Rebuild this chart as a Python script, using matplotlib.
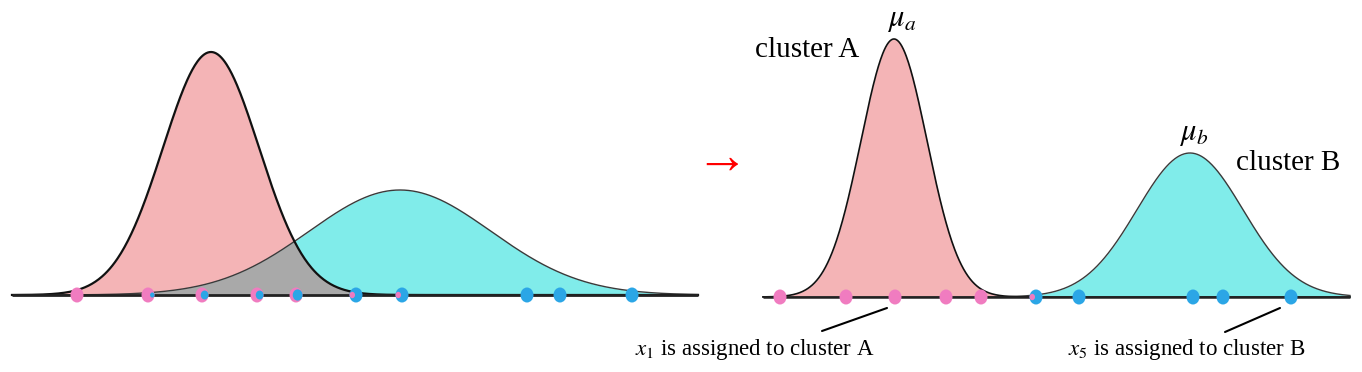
import matplotlib
matplotlib.use("Agg")
import matplotlib.pyplot as plt
import numpy as np
from matplotlib.patches import Ellipse

plt.rcParams['font.family'] = ['Liberation Serif', 'DejaVu Serif']
plt.rcParams['mathtext.fontset'] = 'stix'

# Colores
PINK_FILL = '#f4b4b6'
CYAN_FILL = '#80ecea'
GRAY_FILL = '#a9a9a9'
PINK_DOT = '#f07cc0'
BLUE_DOT = '#2ba6e6'

# Panel izquierdo (antes): dos gaussianas que se solapan (unidades en pixeles)
left_base = 295
left_range = (12, 698)
left_a = dict(mu=211, sigma=48, height=243)
left_b = dict(mu=400, sigma=91, height=105)
left_points = [77, 148, 202, 257, 296, 356, 402, 527, 560, 632]
left_pink_frac = [1.0, 0.8, 0.65, 0.65, 0.55, 0.25, 0.25, 0.0, 0.0, 0.0]

# Panel derecho (despues): clusters separados
right_base = 297
right_range = (763, 1350)
right_a = dict(mu=894, sigma=33, height=258)
right_b = dict(mu=1190, sigma=53, height=144)
right_points = [780, 846, 895, 946, 981, 1036, 1079, 1193, 1223, 1291]
right_pink_frac = [1.0, 1.0, 1.0, 1.0, 1.0, 0.25, 0.0, 0.0, 0.0, 0.0]


def gauss(x, mu, sigma, height):
    return height * np.exp(-0.5 * ((x - mu) / sigma) ** 2)


def draw_panel(ax, base, xr, ga, gb, lw_a, lw_base):
    x = np.linspace(xr[0], xr[1], 800)
    ya = gauss(x, **ga)
    yb = gauss(x, **gb)
    ax.fill_between(x, base, base - ya, color=PINK_FILL, lw=0, zorder=1)
    ax.fill_between(x, base, base - yb, color=CYAN_FILL, lw=0, zorder=1)
    ax.fill_between(x, base, base - np.minimum(ya, yb), color=GRAY_FILL, lw=0, zorder=2)
    ax.plot(x, base - yb, color='#3a3a3a', lw=1.0, zorder=3)
    ax.plot(x, base - ya, color='#111111', lw=lw_a, zorder=4)
    ax.plot(xr, [base, base], color='#222222', lw=lw_base, zorder=5, solid_capstyle='butt')


def draw_points(ax, xs, fracs, base, d=13, h=15):
    for x, p in zip(xs, fracs):
        main = PINK_DOT if p >= 0.5 else BLUE_DOT
        minor = BLUE_DOT if p >= 0.5 else PINK_DOT
        ax.add_patch(Ellipse((x, base), d, h, color=main, lw=0, zorder=6))
        m = (1 - p) if p >= 0.5 else p
        if m > 0:
            dm = min(d * m * 1.7, d * 0.75)
            hm = min(h * m * 1.7, h * 0.75)
            off = (d - dm) / 2 * (1 if p >= 0.5 else -1)
            ax.add_patch(Ellipse((x + off, base), dm, hm, color=minor, lw=0, zorder=7))


fig = plt.figure(figsize=(13.62, 3.72), dpi=100)
ax = fig.add_axes([0, 0, 1, 1])
ax.set_xlim(0, 1362)
ax.set_ylim(372, 0)
ax.axis('off')

draw_panel(ax, left_base, left_range, left_a, left_b, 1.6, 2.0)
draw_points(ax, left_points, left_pink_frac, left_base)

draw_panel(ax, right_base, right_range, right_a, right_b, 1.2, 1.8)
draw_points(ax, right_points, right_pink_frac, right_base)

# Flecha roja
ax.text(722, 160, '→', color='red', fontsize=38, ha='center', va='center')

# Etiquetas de clusters
ax.text(755, 50, 'cluster A', fontsize=21, ha='left', va='center')
ax.text(1236, 163, 'cluster B', fontsize=21, ha='left', va='center')
ax.text(right_a['mu'] + 8, 20, r'$\mu_a$', fontsize=22, ha='center', va='center')
ax.text(right_b['mu'] + 4, 134, r'$\mu_b$', fontsize=22, ha='center', va='center')

# Anotaciones de asignacion
x1 = right_points[2]
x5 = right_points[-1]
ax.annotate('', xy=(x1 - 8, right_base + 11), xytext=(x1 - 73, right_base + 34),
            arrowprops=dict(arrowstyle='-', color='black', lw=1.5, shrinkA=0, shrinkB=0))
ax.annotate('', xy=(x5 - 11, right_base + 11), xytext=(x5 - 66, right_base + 35),
            arrowprops=dict(arrowstyle='-', color='black', lw=1.5, shrinkA=0, shrinkB=0))
ax.text(755, 350, r'$x_1$ is assigned to cluster A', fontsize=16.5, ha='center', va='center')
ax.text(1187, 349, r'$x_5$ is assigned to cluster B', fontsize=16.5, ha='center', va='center')

fig.savefig('out.png', dpi=100)
